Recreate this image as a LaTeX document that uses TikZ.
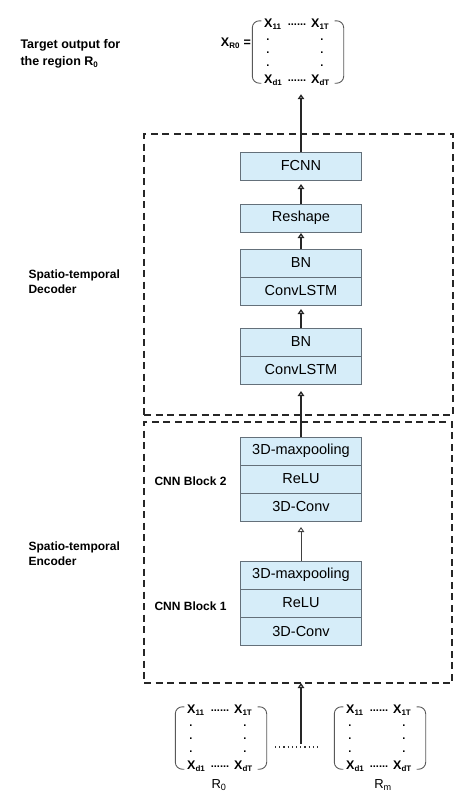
\documentclass[tikz,border=0pt]{standalone}
\usepackage{fontspec}
\setmainfont{Liberation Sans}
\usepackage{tikz}
\usetikzlibrary{arrows.meta, positioning}

\definecolor{layerfill}{RGB}{214,237,249}
\definecolor{layerdraw}{RGB}{100,112,122}

\newcommand{\subidx}[1]{\textsubscript{\fontsize{8}{9}\selectfont\bfseries #1}}

% entries of one input matrix, placed round the origin of the current scope
\newcommand{\regionentries}[1]{%
	\node[entry, anchor=west] (#111) at (-34,-28) {X\subidx{11}};
	\node[entry, anchor=west] (#11T) at (13,-28) {X\subidx{1T}};
	\node[entry, anchor=west] (#1d1) at (-34,28) {X\subidx{d1}};
	\node[entry, anchor=west] (#1dT) at (13,28) {X\subidx{dT}};
	\node[dotrow] at (-1,-27) {......};
	\node[dotrow] at (-1,29) {......};
	\foreach \yy in {-12,1,14}{
		\node[dotrow] at (-30,\yy) {.};
		\node[dotrow] at (24,\yy) {.};
	}
}

\begin{document}
\begin{tikzpicture}[
				x=1pt, y=-1pt,
				node distance=20pt,
				layer/.style={draw=layerdraw, fill=layerfill, line width=0.8pt, minimum width=121pt, minimum height=28pt, inner sep=0pt, outer sep=0pt, font=\fontsize{14.5}{17}\selectfont},
				groupbox/.style={draw=black!85, line width=1.6pt, dash pattern=on 7pt off 4.5pt, inner sep=0pt, outer sep=0pt},
				sidelabel/.style={font=\fontsize{12}{15}\selectfont\bfseries, align=left, anchor=west},
				entry/.style={font=\fontsize{12.5}{14}\selectfont\bfseries, inner sep=0pt},
				dotrow/.style={font=\fontsize{11}{12}\selectfont\bfseries, inner sep=0pt},
				matbox/.style={minimum width=91pt, minimum height=62pt, inner sep=0pt},
				paren/.style={draw=black!65, line width=0.9pt, rounded corners=7pt},
				flow/.style={-{Triangle[open, length=5pt, width=6.5pt]}, line width=1.8pt, black!85},
				thinflow/.style={-{Triangle[open, length=5pt, width=6.5pt]}, line width=0.9pt, black!75},
				]
				
				\useasboundingbox (0,0) rectangle (474,809);
				
				% cadres encodeur / decodeur
				\node[groupbox, minimum width=309pt, minimum height=281pt] (decbox) at (298.5,274.5) {};
				\node[groupbox, minimum width=308pt, minimum height=261pt] (encbox) at (298,552.5) {};
				
				\node[sidelabel] (declabel) at (25,281.5) {Spatio-temporal\\Decoder};
				\node[sidelabel] (enclabel) at (25,553.5) {Spatio-temporal\\Encoder};
				\node[sidelabel] (blocklabel2) at (151,481) {CNN Block 2};
				\node[sidelabel] (blocklabel1) at (151,606) {CNN Block 1};
				
				% decodeur
				\node[layer] (fcnn) at (301,166) {FCNN};
				\node[layer, below=24pt of fcnn] (reshape) {Reshape};
				\node[layer, below=17pt of reshape] (bnB) {BN};
				\node[layer, below=0pt of bnB] (lstmB) {ConvLSTM};
				\node[layer, below=23pt of lstmB] (bnA) {BN};
				\node[layer, below=0pt of bnA] (lstmA) {ConvLSTM};
				
				% encodeur
				\node[layer, below=53pt of lstmA] (poolB) {3D-maxpooling};
				\node[layer, below=0pt of poolB] (reluB) {ReLU};
				\node[layer, below=0pt of reluB] (convB) {3D-Conv};
				\node[layer, below=40pt of convB] (poolA) {3D-maxpooling};
				\node[layer, below=0pt of poolA] (reluA) {ReLU};
				\node[layer, below=0pt of reluA] (convA) {3D-Conv};
				
				% matrice de sortie
				\node[matbox] (outmat) at (298,52) {};
				\begin{scope}[shift={(outmat.center)}]
					\regionentries{out}
				\end{scope}
				\node[entry, anchor=east] (outname) at (251,43) {X\subidx{R0} =};
				\node[sidelabel, font=\fontsize{12.5}{17}\selectfont\bfseries] (outlabel) at (17,53.5) {Target output for\\the region R\subidx{0}};
				
				% matrices d'entree
				\node[matbox] (inmatA) at (221,738) {};
				\begin{scope}[shift={(inmatA.center)}]
					\regionentries{inA}
				\end{scope}
				\node[matbox] (inmatB) at (380,738) {};
				\begin{scope}[shift={(inmatB.center)}]
					\regionentries{inB}
				\end{scope}
				\node[font=\fontsize{13}{15}\selectfont] (nameA) at (219,785) {R\textsubscript{0}};
				\node[font=\fontsize{13}{15}\selectfont] (nameB) at (383,785) {R\textsubscript{m}};
				
				\foreach \m in {outmat, inmatA, inmatB}{
					\draw[paren] ([xshift=9pt]\m.north west) -- (\m.north west) -- (\m.south west) -- ([xshift=9pt]\m.south west);
					\draw[paren] ([xshift=-9pt]\m.north east) -- (\m.north east) -- (\m.south east) -- ([xshift=-9pt]\m.south east);
				}
				
				\coordinate (gapL) at (275,747);
				\coordinate (gapR) at (319,747);
				\coordinate (inbase) at (301,744);
				\draw[line width=1.2pt, dash pattern=on 1.2pt off 3pt, black!80] (gapL) -- (gapR);
				
				% fleches
				\draw[flow] (inbase) -- (encbox.south -| inbase);
				\draw[thinflow, shorten >=6pt] (poolA) -- (convB);
				\draw[flow, shorten >=7pt] (poolB) -- (lstmA);
				\draw[flow, shorten >=4pt] (bnA) -- (lstmB);
				\draw[flow, shorten >=1pt] (bnB) -- (reshape);
				\draw[flow, shorten >=4pt] (reshape) -- (fcnn);
				\draw[flow, shorten >=11pt] (fcnn) -- (outmat.south -| fcnn);
				
			\end{tikzpicture}
\end{document}
